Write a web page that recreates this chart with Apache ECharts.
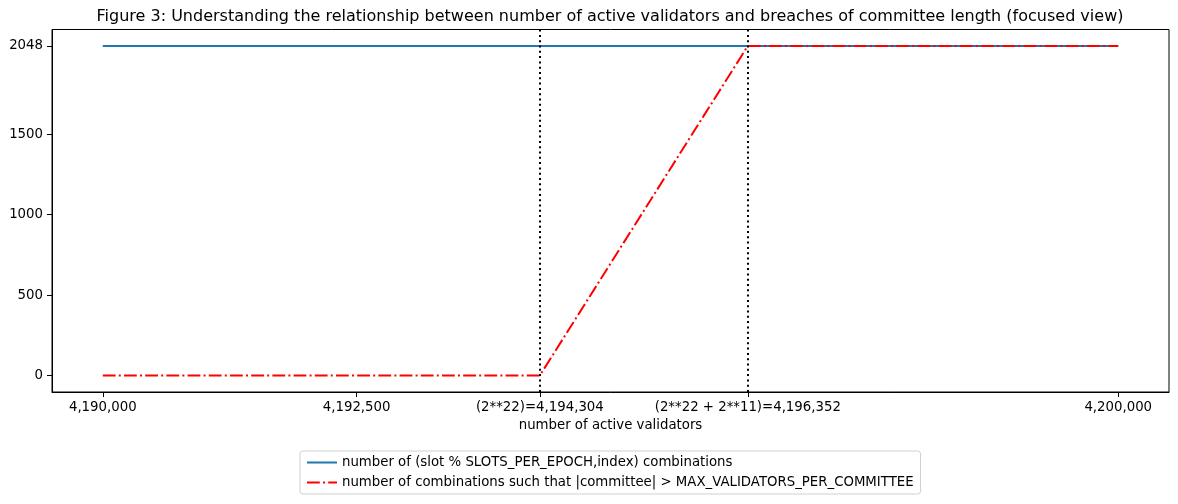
<!DOCTYPE html>
<html lang="en">
<head>
    <meta charset="UTF-8">
    <title>Figure 3: active validators vs committee length breaches</title>
    <script src="https://cdn.jsdelivr.net/npm/echarts@6/dist/echarts.min.js"></script>
    <style>
        * { margin: 0; padding: 0; box-sizing: border-box; }
        body { background: #fff; }
        #chart { width: 1178px; height: 504px; }
    </style>
</head>
<body>
    <div id="chart"></div>
    <script>
        // chart data
        const validators = [4190000, 4194304, 4196352, 4200000];
        const combinations = [2048, 2048, 2048, 2048];
        const breaches = [0, 0, 2048, 2048];
        const markerLines = [4194304, 4196352];

        // tick labels
        const xTicks = [4190000, 4192500, 4194304, 4196352, 4200000];
        const xTickLabels = ['4,190,000', '4,192,500', '(2**22)=4,194,304', '(2**22 + 2**11)=4,196,352', '4,200,000'];
        const yTicks = [0, 500, 1000, 1500, 2048];

        const seriesNames = [
            'number of (slot % SLOTS_PER_EPOCH,index) combinations',
            'number of combinations such that |committee| > MAX_VALIDATORS_PER_COMMITTEE'
        ];

        const font = 'DejaVu Sans, sans-serif';
        const chart = echarts.init(document.getElementById('chart'));

        const option = {
            animation: false,
            textStyle: { fontFamily: font },
            title: {
                text: 'Figure 3: Understanding the relationship between number of active validators and breaches of committee length (focused view)',
                left: 610,
                textAlign: 'center',
                top: 9,
                padding: 0,
                textStyle: { fontFamily: font, fontSize: 16, fontWeight: 'normal', color: '#000' }
            },
            grid: {
                left: 52, right: 9, top: 29.5, bottom: 112,
                show: true, borderColor: '#000', borderWidth: 1
            },
            legend: {
                orient: 'vertical',
                left: 300,
                top: 451,
                padding: [5, 7, 5, 6],
                itemGap: 7,
                itemWidth: 30,
                itemHeight: 14,
                borderColor: '#d0d0d0',
                borderWidth: 1,
                borderRadius: 3,
                itemStyle: { opacity: 0 },
                textStyle: { fontFamily: font, fontSize: 13.3, color: '#000' },
                data: seriesNames
            },
            xAxis: {
                type: 'value',
                min: 4189500,
                max: 4200500,
                name: 'number of active validators',
                nameLocation: 'middle',
                nameGap: 27,
                nameTextStyle: { fontFamily: font, fontSize: 13.3, color: '#000' },
                axisLine: { show: true, onZero: false, lineStyle: { color: '#000' } },
                axisTick: { show: true, length: 5, lineStyle: { color: '#000' }, customValues: xTicks },
                axisLabel: {
                    color: '#000', fontSize: 13.3, fontFamily: font, margin: 9,
                    customValues: xTicks,
                    formatter: v => xTickLabels[xTicks.indexOf(v)]
                },
                splitLine: { show: false }
            },
            yAxis: {
                type: 'value',
                min: -102.4,
                max: 2150.4,
                axisLine: { show: true, onZero: false, lineStyle: { color: '#000' } },
                axisTick: { show: true, length: 5, lineStyle: { color: '#000' }, customValues: yTicks },
                axisLabel: {
                    color: '#000', fontSize: 13.3, fontFamily: font, margin: 9,
                    customValues: yTicks,
                    formatter: v => String(v)
                },
                splitLine: { show: false }
            },
            series: [
                {
                    name: seriesNames[0],
                    type: 'line',
                    data: validators.map((x, i) => [x, combinations[i]]),
                    showSymbol: false,
                    symbol: 'none',
                    lineStyle: { color: '#1f77b4', width: 2 },
                    itemStyle: { color: '#1f77b4' },
                    markLine: {
                        silent: true,
                        symbol: 'none',
                        label: { show: false },
                        lineStyle: { color: '#000', width: 2, type: [2, 3.3] },
                        data: markerLines.map(x => ({ xAxis: x }))
                    }
                },
                {
                    name: seriesNames[1],
                    type: 'line',
                    data: validators.map((x, i) => [x, breaches[i]]),
                    showSymbol: false,
                    symbol: 'none',
                    lineStyle: { color: '#ff0000', width: 2, type: [12.8, 3.2, 2, 3.2] },
                    itemStyle: { color: '#ff0000' }
                }
            ]
        };

        chart.setOption(option);
    </script>
</body>
</html>
